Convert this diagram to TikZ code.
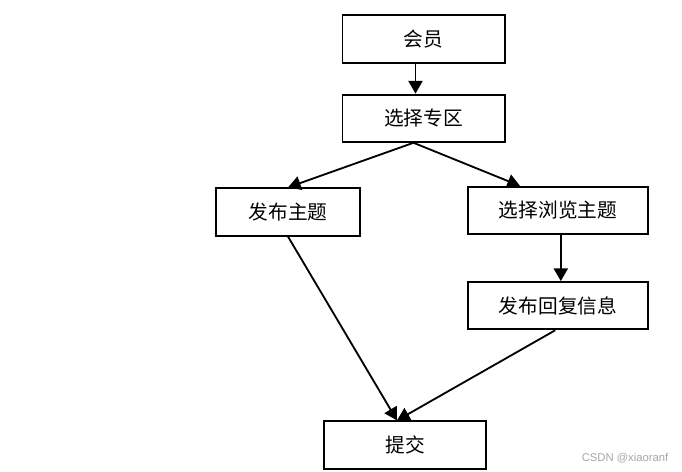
\documentclass[tikz,border=0pt]{standalone}
\usepackage{fontspec}
\newfontfamily\cjk{Noto Sans CJK SC}
\newfontfamily\wmfont{Liberation Sans}
\usepackage{tikz}
\usetikzlibrary{arrows.meta,positioning,calc}

\begin{document}
\begin{tikzpicture}[
    x=0.025cm, y=-0.025cm,
    node distance=0.75cm,
    box/.style={rectangle, draw=black, line width=1.4pt, align=center, minimum height=1.18cm, minimum width=4.05cm, font=\cjk\fontsize{14}{17}\selectfont},
    arrow/.style={-{Triangle[length=9pt,width=10pt]}, line width=1.3pt, draw=black}
]
    \useasboundingbox (0,0) rectangle (682,472);

    \node [box] (huiyuan) at (423.5,39) {会员};
    \node [box, below=of huiyuan] (zhuanqu) {选择专区};
    \node [box, minimum width=3.6cm] (fabu) at (288,212) {发布主题};
    \node [box, minimum width=4.5cm] (liulan) at (558,210.5) {选择浏览主题};
    \node [box, minimum width=4.5cm, below=1.15cm of liulan] (huifu) {发布回复信息};
    \node [box] (tijiao) at (405,445) {提交};

    \coordinate (split) at ([xshift=-0.25cm]zhuanqu.south);
    \coordinate (join) at ([xshift=-0.2cm]tijiao.north);

    \draw [arrow] ([xshift=-0.2cm]huiyuan.south) -- ([xshift=-0.2cm]zhuanqu.north);
    \draw [arrow] (split) -- (fabu.north);
    \draw [arrow] (split) -- ([xshift=-0.95cm]liulan.north);
    \draw [arrow] ([xshift=0.07cm]liulan.south) -- ([xshift=0.07cm]huifu.north);
    \draw [arrow] (fabu.south) -- (join);
    \draw [arrow] ([xshift=-0.07cm]huifu.south) -- (join);

    % watermark
    \node [text=black!35, font=\wmfont\fontsize{8}{9}\selectfont] (mark) at (625,458) {CSDN @xiaoranf};
\end{tikzpicture}
\end{document}
